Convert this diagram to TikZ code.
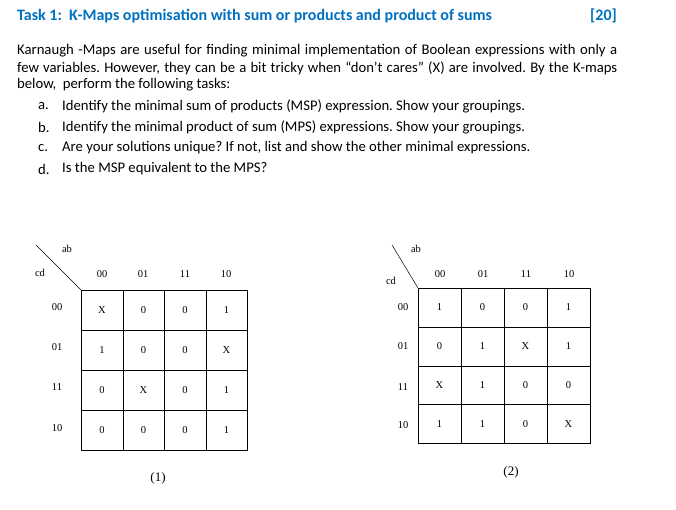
\documentclass[tikz,border=0pt]{standalone}
\usepackage{fontspec}
\setmainfont{Carlito}
\newfontfamily\tms{Liberation Serif}
\definecolor{hdr}{RGB}{0,112,192}
\frenchspacing
\begin{document}
\begin{tikzpicture}[x=1pt,y=-1pt,
  txt/.style={anchor=west,inner sep=0pt,font=\fontsize{14.7}{16}\selectfont},
  km/.style={inner sep=0pt,font=\tms\fontsize{10.5}{12}\selectfont},
  grid/.style={line width=0.6pt}]
\useasboundingbox (0,0) rectangle (676,509);
\node[txt,text=hdr,font=\bfseries\fontsize{16}{17}\selectfont] (h) at (17,16) {Task 1:\ \ K-Maps optimisation with sum or products and product of sums};
\node[anchor=east,inner sep=0pt,text=hdr,font=\bfseries\fontsize{16}{17}\selectfont] (pts) at (617,16) {[20]};
\node[txt] (l1) at (17,51) {\makebox[600pt][s]{Karnaugh -Maps are useful for finding minimal implementation of Boolean expressions with only a}};
\node[txt] (l2) at (17,68) {\makebox[600pt][s]{few variables. However, they can be a bit tricky when “don’t cares” (X) are involved. By the K-maps}};
\node[txt] (l3) at (17,85) {below,\ \ perform the following tasks:};
\foreach \l/\t/\y [count=\i] in {a./{Identify the minimal sum of products (MSP) expression. Show your groupings.}/106,
 b./{Identify the minimal product of sum (MPS) expressions. Show your groupings.}/127,
 c./{Are your solutions unique? If not, list and show the other minimal expressions.}/148,
 d./{Is the MSP equivalent to the MPS?}/169}{
  \node[txt] (ll\i) at (38,\y) {\l};
  \node[txt] (lt\i) at (62,\y) {\t};
}
% map 1
\draw[grid] (81,290) rectangle (247,450);
\foreach \x in {123,164,206} \draw[grid] (\x,290) -- (\x,450);
\foreach \y in {330,370,410} \draw[grid] (81,\y) -- (247,\y);
\draw[line width=0.5pt] (36,245) -- (81,290);
\node[km] (ab1) at (67,249) {ab};
\node[km] (cd1) at (40,273) {cd};
\foreach \c/\x in {00/102,01/143,11/185,10/226} \node[km] at (\x,274) {\c};
\foreach \r/\y in {00/307,01/347,11/387,10/428} \node[km] at (57,\y) {\r};
\foreach \v [count=\k] in {X,0,0,1,1,0,0,X,0,X,0,1,0,0,0,1}{
  \pgfmathtruncatemacro\cc{mod(\k-1,4)}
  \pgfmathtruncatemacro\rr{div(\k-1,4)}
  \node[km] at (102+41.5*\cc,310+40*\rr) {\v};
}
\node[km,font=\tms\fontsize{13}{14}\selectfont] (c1) at (158,478) {(1)};
% map 2
\draw[grid] (418,288) rectangle (590,443);
\foreach \x in {461,504,547} \draw[grid] (\x,288) -- (\x,443);
\foreach \y in {327,366,404} \draw[grid] (418,\y) -- (590,\y);
\draw[line width=0.5pt] (392,245) -- (418,288);
\node[km] (ab2) at (416,249) {ab};
\node[km] (cd2) at (391,281) {cd};
\foreach \c/\x in {00/440,01/483,11/526,10/569} \node[km] at (\x,274) {\c};
\foreach \r/\y in {00/307,01/346,11/387,10/425} \node[km] at (403,\y) {\r};
\foreach \v [count=\k] in {1,0,0,1,0,1,X,1,X,1,0,0,1,1,0,X}{
  \pgfmathtruncatemacro\cc{mod(\k-1,4)}
  \pgfmathtruncatemacro\rr{div(\k-1,4)}
  \node[km] at (439.5+43*\cc,307.5+38.8*\rr) {\v};
}
\node[km,font=\tms\fontsize{13}{14}\selectfont] (c2) at (511,472) {(2)};
\end{tikzpicture}
\end{document}
